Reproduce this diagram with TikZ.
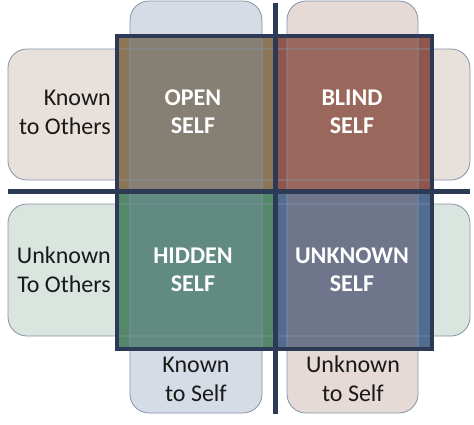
\documentclass[tikz,border=0pt]{standalone}
\usepackage{fontspec}
\setmainfont{Carlito}
\definecolor{rowT}{HTML}{E8E0DB}
\definecolor{rowB}{HTML}{D9E5DE}
\definecolor{colL}{HTML}{7C92B1}
\definecolor{colR}{HTML}{B18B7F}
\definecolor{edgec}{HTML}{8593A8}
\definecolor{frame}{HTML}{2C3A55}
\definecolor{qopen}{HTML}{8C7656}
\definecolor{qblind}{HTML}{8F564C}
\definecolor{qhidden}{HTML}{55886A}
\definecolor{qunknown}{HTML}{506C91}
\begin{document}
\begin{tikzpicture}[x=1pt,y=-1pt,
  bgbox/.style={rounded corners=19pt},
  bgedge/.style={draw=edgec, line width=0.8pt, rounded corners=19pt},
  lbl/.style={font=\fontsize{24}{29}\selectfont, text=black!90, inner sep=0pt},
  qlbl/.style={font=\fontsize{24}{28}\selectfont\bfseries, text=white, inner sep=0pt, align=center},
  divider/.style={draw=frame, line width=5pt},
]
\useasboundingbox (0,0) rectangle (474,424);
% row boxes
\fill[rowT, bgbox] (8,49) rectangle (470,180);
\fill[rowB, bgbox] (8,204) rectangle (470,336);
% quadrants
\fill[qopen] (117,36) rectangle (275,191);
\fill[qblind] (275,36) rectangle (432,191);
\fill[qhidden] (117,191) rectangle (275,349);
\fill[qunknown] (275,191) rectangle (432,349);
% column boxes (translucent, on top)
\fill[colL, fill opacity=0.32, bgbox] (130,1) rectangle (262,413);
\fill[colR, fill opacity=0.32, bgbox] (287,1) rectangle (418,413);
% outlines of the label boxes
\draw[bgedge] (8,49) rectangle (470,180);
\draw[bgedge] (8,204) rectangle (470,336);
\draw[bgedge] (130,1) rectangle (262,413);
\draw[bgedge] (287,1) rectangle (418,413);
% frame and dividers
\draw[draw=frame, line width=3.5pt] (117,36) rectangle (432,349);
\draw[divider] (275,3) -- (275,414);
\draw[divider] (8,191) -- (470,191);
% texts
\node[lbl, align=right, anchor=east] (kto) at (111,112) {Known\\to Others};
\node[lbl, align=right, anchor=east] (uto) at (111,270) {Unknown\\To Others};
\node[qlbl] (open) at (193,112) {OPEN\\SELF};
\node[qlbl] (blind) at (352,112) {BLIND\\SELF};
\node[qlbl] (hidden) at (193,270) {HIDDEN\\SELF};
\node[qlbl] (unknown) at (352,270) {UNKNOWN\\SELF};
\node[lbl, align=center] (kts) at (196,379) {Known\\to Self};
\node[lbl, align=center] (uts) at (353,379) {Unknown\\to Self};
\end{tikzpicture}
\end{document}
